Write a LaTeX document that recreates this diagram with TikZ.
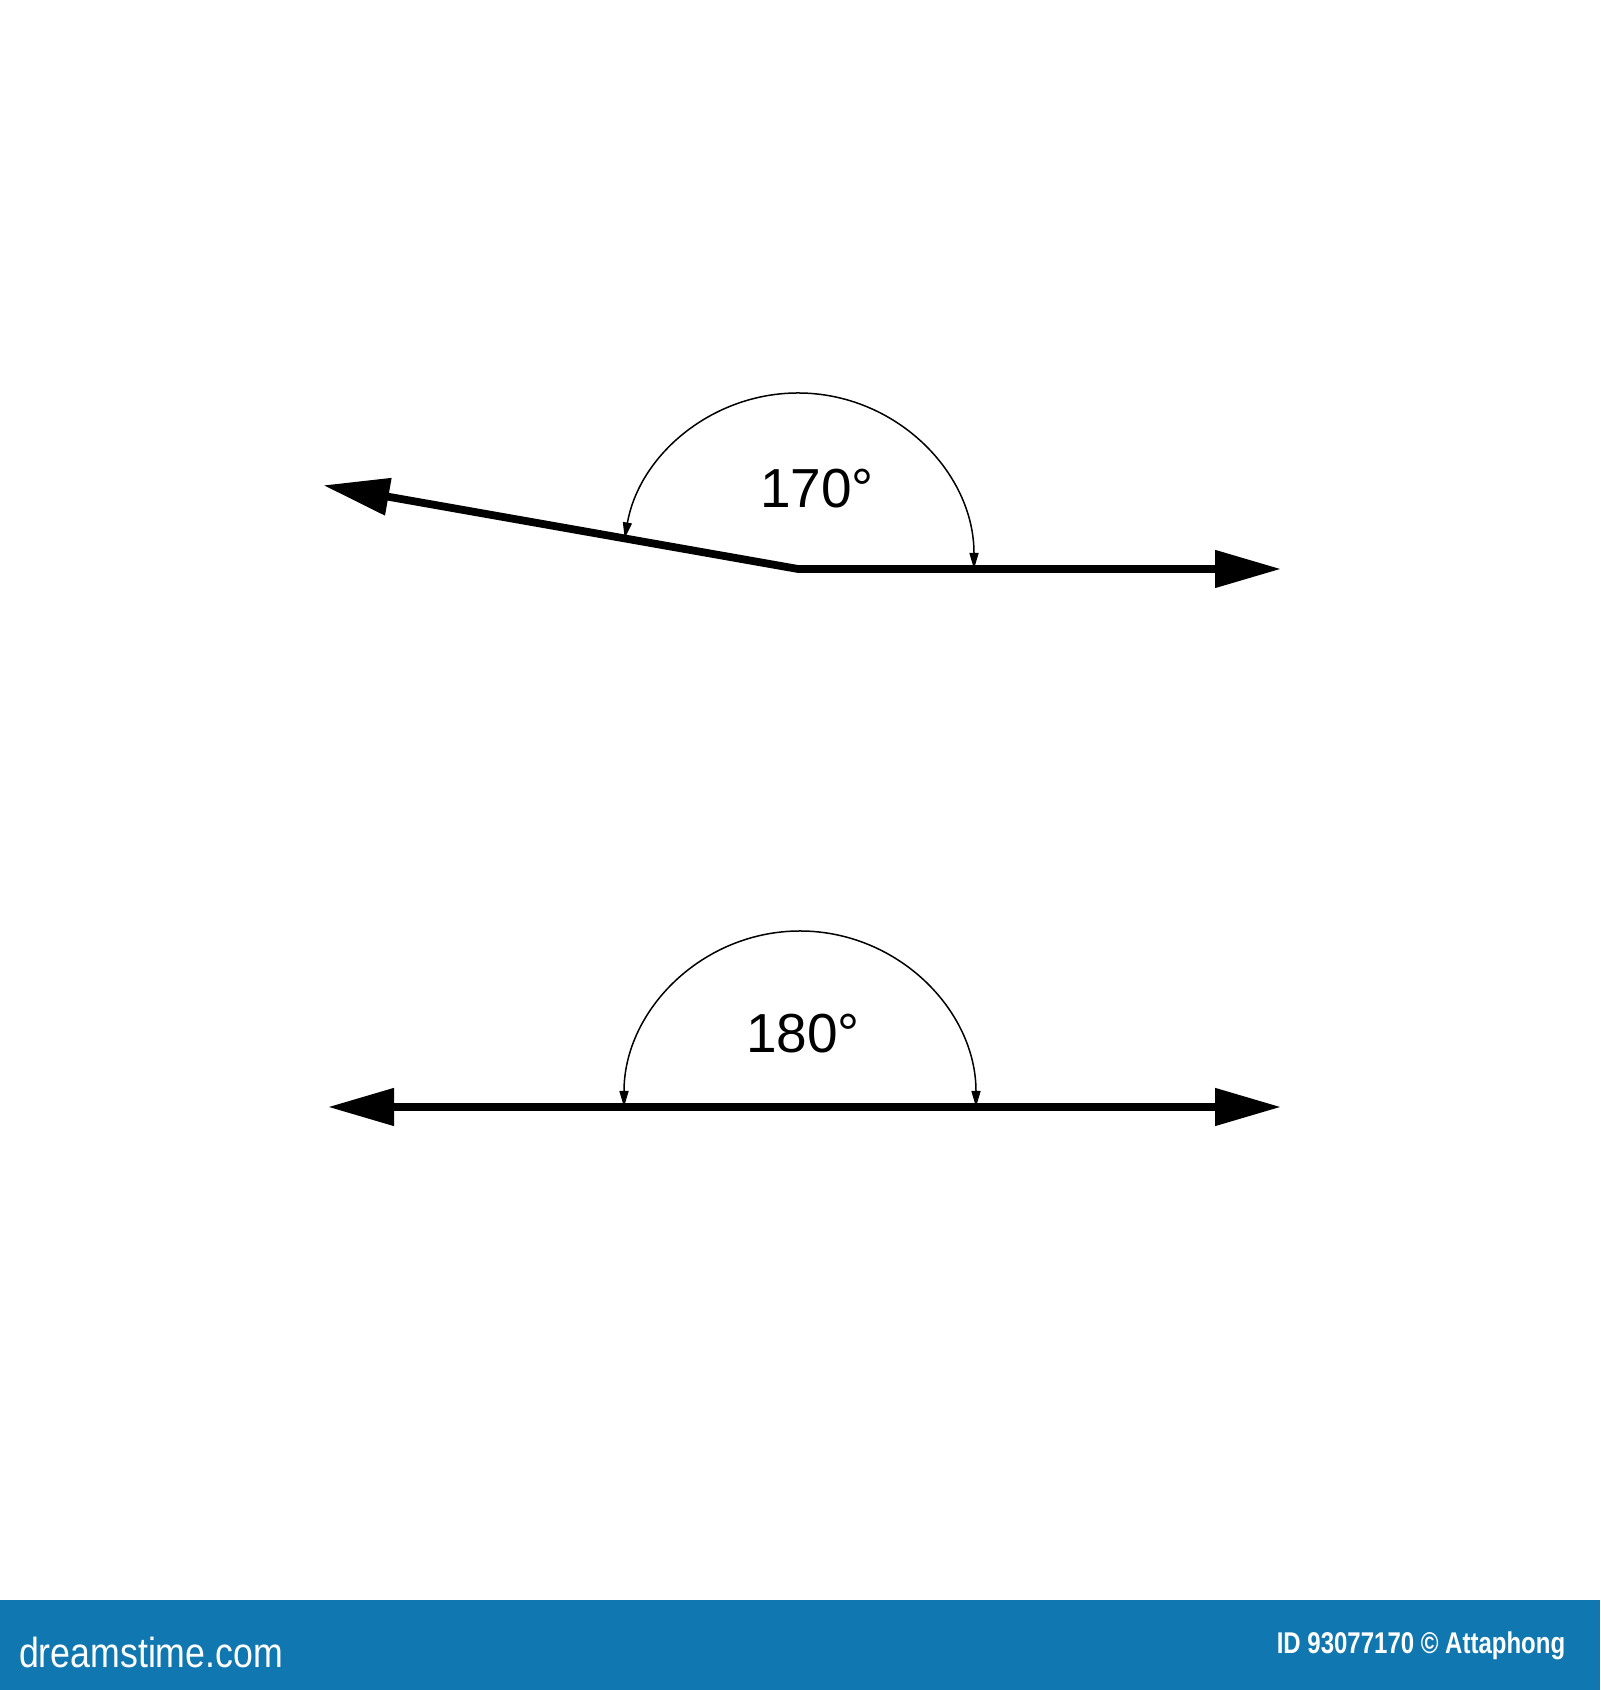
\documentclass[tikz,border=0pt]{standalone}
\usepackage{fontspec}
\setmainfont{Liberation Sans}
\usetikzlibrary{arrows.meta,calc}
\definecolor{barblue}{RGB}{16,119,176}
\tikzset{
  ray/.style={line width=3.9pt, line join=miter, {Triangle[length=33pt,width=18pt]}-{Triangle[length=33pt,width=18pt]}},
  anglearc/.style={line width=0.75pt, {Triangle[length=8pt,width=4.5pt]}-{Triangle[length=8pt,width=4.5pt]}},
  anglelabel/.style={inner sep=0pt, font=\fontsize{27.5}{29}\selectfont},
}
\begin{document}
\begin{tikzpicture}[x=0.5pt,y=0.5pt]
\useasboundingbox (0,0) rectangle (1600,1690);
\fill[white] (0,0) rectangle (1600,1690);
% top: 170 degrees
\coordinate (V1) at (798,1121);
\coordinate (R1) at (1281,1121);
\coordinate (L1) at ($(V1)+(170:482)$);
\coordinate (A1) at ($(V1)+(0:176)$);
\draw[ray] (L1) -- (V1) -- (R1);
\draw[anglearc] (A1) arc[start angle=0, end angle=170, radius=176];
\node[anglelabel] (t1) at (817,1201) {170°};
% bottom: 180 degrees
\coordinate (V2) at (800,583);
\coordinate (L2) at (328,583);
\coordinate (R2) at (1281,583);
\coordinate (A2) at ($(V2)+(0:176)$);
\draw[ray] (L2) -- (R2);
\draw[anglearc] (A2) arc[start angle=0, end angle=180, radius=176];
\node[anglelabel] (t2) at (803,656) {180°};
% bottom bar
\fill[barblue] (0,0) rectangle (1600,90);
\node[text=white, inner sep=0pt, font=\fontsize{21}{22}\selectfont, xscale=0.85, transform shape] (brand) at (151,38) {dreamstime.com};
\node[text=white, inner sep=0pt, font=\bfseries\fontsize{15}{16}\selectfont, xscale=0.8, transform shape] (credit) at (1421,44) {ID 93077170 © Attaphong};
\end{tikzpicture}
\end{document}
